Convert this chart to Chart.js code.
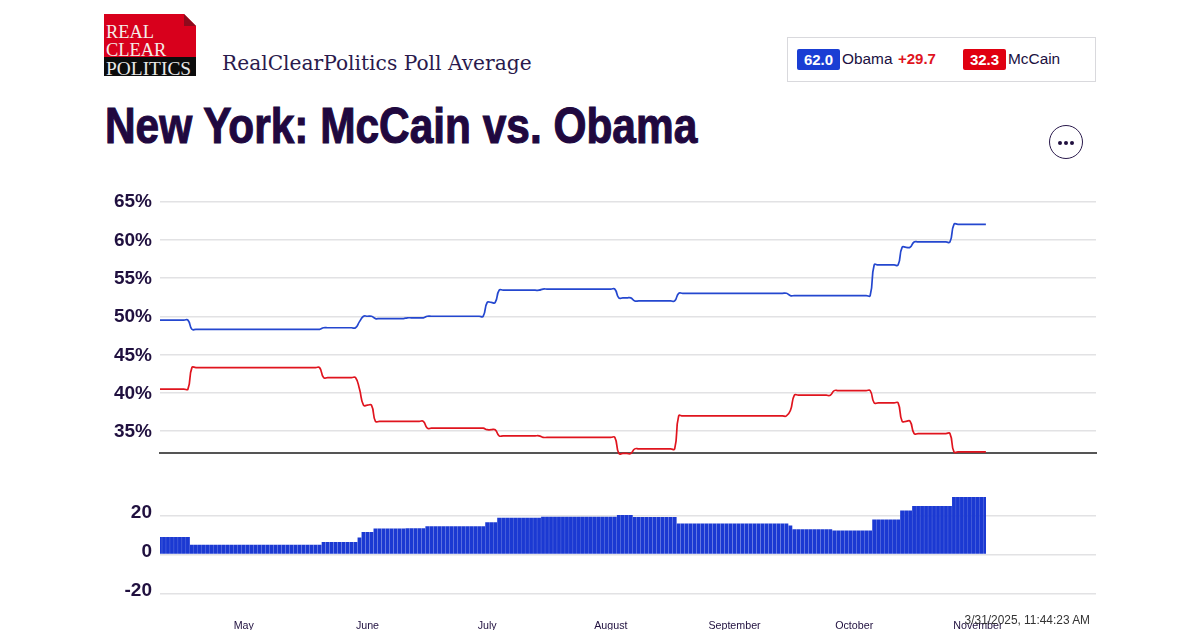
<!DOCTYPE html>
<html>
<head>
<meta charset="utf-8">
<title>New York: McCain vs. Obama</title>
<script src="https://cdn.jsdelivr.net/npm/chart.js@4"></script>
<style>
  body { margin: 0; width: 1200px; height: 630px; overflow: hidden; background: #fff; position: relative; font-family: "Liberation Sans", Arial, sans-serif; color: #20103f; }
  canvas { position: absolute; }
  .abs { position: absolute; white-space: nowrap; }
  #logo { left: 104px; top: 14px; width: 92px; height: 62px; background: #d8001c; overflow: hidden; clip-path: polygon(0 0, 80px 0, 92px 12px, 92px 62px, 0 62px); font-family: "Liberation Serif", serif; color: #f4ece8; }
  #logo .fold { position: absolute; left: 80px; top: 0; width: 12px; height: 12px; background: #8e0a1c; }
  #logo .strip { position: absolute; left: 0; top: 43px; width: 92px; height: 19px; background: #0c0c0c; }
  #logo span { position: absolute; left: 2px; line-height: 1; }
  #subtitle { left: 222px; top: 50px; font-family: "DejaVu Serif", serif; font-size: 20.2px; line-height: 27px; color: #2a1a4c; }
  #title { left: 105px; top: 98px; font-family: "Liberation Sans", sans-serif; font-weight: 700; font-size: 50px; line-height: 57px; color: #20083f; -webkit-text-stroke: 1.1px #20083f; transform: scaleX(0.848); transform-origin: 0 0; }
  #legend { left: 787px; top: 37px; width: 307px; height: 43px; border: 1px solid #d9d9dd; }
  .pill { position: absolute; width: 43px; height: 21px; top: 49px; border-radius: 2px; color: #fff; font-weight: 700; font-size: 15px; line-height: 22px; text-align: center; }
  .name { font-size: 15.4px; line-height: 20px; top: 49px; }
  #lead { left: 898px; top: 49px; font-size: 15px; font-weight: 700; line-height: 20px; color: #e0141e; }
  #more { left: 1049px; top: 125px; width: 32px; height: 32px; border: 1.5px solid #2a1a4c; border-radius: 50%; }
  #more i { position: absolute; top: 14.5px; width: 4px; height: 4px; border-radius: 50%; background: #20103f; }
  #stamp { right: 110px; top: 613px; font-size: 11.9px; line-height: 15px; color: #333; }
</style>
</head>
<body>
<div id="logo" class="abs">
  <div class="strip"></div>
  <div class="fold"></div>
  <span style="top:9px;font-size:18.4px">REAL</span>
  <span style="top:27px;font-size:18.4px">CLEAR</span>
  <span style="top:45px;font-size:19.4px;color:#e8e8e8">POLITICS</span>
</div>
<div id="subtitle" class="abs">RealClearPolitics Poll Average</div>
<div id="title" class="abs">New York: McCain vs. Obama</div>
<div id="legend" class="abs"></div>
<div class="pill abs" style="left:797px;background:#1a3ed4">62.0</div>
<div class="name abs" style="left:842px">Obama</div>
<div id="lead" class="abs">+29.7</div>
<div class="pill abs" style="left:963px;background:#e00010">32.3</div>
<div class="name abs" style="left:1008px">McCain</div>
<div id="more" class="abs"><i style="left:8px"></i><i style="left:14px"></i><i style="left:20px"></i></div>
<canvas id="pollChart" width="1000" height="270" style="left:100px;top:190px"></canvas>
<canvas id="spreadChart" width="1000" height="140" style="left:100px;top:490px"></canvas>
<div id="stamp" class="abs">3/31/2025, 11:44:23 AM</div>

<script>
// daily averages, one row = ten days, first day is April 10
const obama = [
  49.5, 49.5, 49.5, 49.5, 49.5, 49.5, 49.5, 49.5, 48.3, 48.3,
  48.3, 48.3, 48.3, 48.3, 48.3, 48.3, 48.3, 48.3, 48.3, 48.3,
  48.3, 48.3, 48.3, 48.3, 48.3, 48.3, 48.3, 48.3, 48.3, 48.3,
  48.3, 48.3, 48.3, 48.3, 48.3, 48.3, 48.3, 48.3, 48.3, 48.3,
  48.3, 48.5, 48.5, 48.5, 48.5, 48.5, 48.5, 48.5, 48.5, 48.5,
  49.3, 50.0, 50.0, 50.0, 49.7, 49.7, 49.7, 49.7, 49.7, 49.7,
  49.7, 49.7, 49.8, 49.8, 49.8, 49.8, 49.8, 50.0, 50.0, 50.0,
  50.0, 50.0, 50.0, 50.0, 50.0, 50.0, 50.0, 50.0, 50.0, 50.0,
  50.0, 50.0, 51.8, 51.8, 51.8, 53.4, 53.4, 53.4, 53.4, 53.4,
  53.4, 53.4, 53.4, 53.4, 53.4, 53.4, 53.55, 53.55, 53.55, 53.55,
  53.55, 53.55, 53.55, 53.55, 53.55, 53.55, 53.55, 53.55, 53.55, 53.55,
  53.55, 53.55, 53.55, 53.55, 53.55, 52.4, 52.4, 52.4, 52.4, 52.0,
  52.0, 52.0, 52.0, 52.0, 52.0, 52.0, 52.0, 52.0, 52.0, 52.0,
  53.0, 53.0, 53.0, 53.0, 53.0, 53.0, 53.0, 53.0, 53.0, 53.0,
  53.0, 53.0, 53.0, 53.0, 53.0, 53.0, 53.0, 53.0, 53.0, 53.0,
  53.0, 53.0, 53.0, 53.0, 53.0, 53.0, 53.0, 53.0, 52.7, 52.7,
  52.7, 52.7, 52.7, 52.7, 52.7, 52.7, 52.7, 52.7, 52.7, 52.7,
  52.7, 52.7, 52.7, 52.7, 52.7, 52.7, 52.7, 52.7, 52.7, 56.7,
  56.7, 56.7, 56.7, 56.7, 56.7, 56.7, 59.0, 59.0, 59.0, 59.7,
  59.7, 59.7, 59.7, 59.7, 59.7, 59.7, 59.7, 59.7, 59.7, 62.0,
  62.0, 62.0, 62.0, 62.0, 62.0, 62.0, 62.0, 62.0
];
const mccain = [
  40.5, 40.5, 40.5, 40.5, 40.5, 40.5, 40.5, 40.5, 43.3, 43.3,
  43.3, 43.3, 43.3, 43.3, 43.3, 43.3, 43.3, 43.3, 43.3, 43.3,
  43.3, 43.3, 43.3, 43.3, 43.3, 43.3, 43.3, 43.3, 43.3, 43.3,
  43.3, 43.3, 43.3, 43.3, 43.3, 43.3, 43.3, 43.3, 43.3, 43.3,
  43.3, 42.0, 42.0, 42.0, 42.0, 42.0, 42.0, 42.0, 42.0, 42.0,
  40.5, 38.4, 38.4, 38.4, 36.3, 36.3, 36.3, 36.3, 36.3, 36.3,
  36.3, 36.3, 36.3, 36.3, 36.3, 36.3, 36.3, 35.4, 35.4, 35.4,
  35.4, 35.4, 35.4, 35.4, 35.4, 35.4, 35.4, 35.4, 35.4, 35.4,
  35.4, 35.4, 35.2, 35.2, 35.2, 34.4, 34.4, 34.4, 34.4, 34.4,
  34.4, 34.4, 34.4, 34.4, 34.4, 34.4, 34.2, 34.2, 34.2, 34.2,
  34.2, 34.2, 34.2, 34.2, 34.2, 34.2, 34.2, 34.2, 34.2, 34.2,
  34.2, 34.2, 34.2, 34.2, 34.2, 32.1, 32.1, 32.1, 32.1, 32.7,
  32.7, 32.7, 32.7, 32.7, 32.7, 32.7, 32.7, 32.7, 32.7, 32.7,
  37.0, 37.0, 37.0, 37.0, 37.0, 37.0, 37.0, 37.0, 37.0, 37.0,
  37.0, 37.0, 37.0, 37.0, 37.0, 37.0, 37.0, 37.0, 37.0, 37.0,
  37.0, 37.0, 37.0, 37.0, 37.0, 37.0, 37.0, 37.0, 37.7, 39.7,
  39.7, 39.7, 39.7, 39.7, 39.7, 39.7, 39.7, 39.7, 39.7, 40.3,
  40.3, 40.3, 40.3, 40.3, 40.3, 40.3, 40.3, 40.3, 40.3, 38.7,
  38.7, 38.7, 38.7, 38.7, 38.7, 38.7, 36.3, 36.3, 36.3, 34.7,
  34.7, 34.7, 34.7, 34.7, 34.7, 34.7, 34.7, 34.7, 34.7, 32.3,
  32.3, 32.3, 32.3, 32.3, 32.3, 32.3, 32.3, 32.3
];
// Obama minus McCain
const spread = [
  9.0, 9.0, 9.0, 9.0, 9.0, 9.0, 9.0, 9.0, 5.0, 5.0,
  5.0, 5.0, 5.0, 5.0, 5.0, 5.0, 5.0, 5.0, 5.0, 5.0,
  5.0, 5.0, 5.0, 5.0, 5.0, 5.0, 5.0, 5.0, 5.0, 5.0,
  5.0, 5.0, 5.0, 5.0, 5.0, 5.0, 5.0, 5.0, 5.0, 5.0,
  5.0, 6.5, 6.5, 6.5, 6.5, 6.5, 6.5, 6.5, 6.5, 6.5,
  8.8, 11.6, 11.6, 11.6, 13.4, 13.4, 13.4, 13.4, 13.4, 13.4,
  13.4, 13.4, 13.5, 13.5, 13.5, 13.5, 13.5, 14.6, 14.6, 14.6,
  14.6, 14.6, 14.6, 14.6, 14.6, 14.6, 14.6, 14.6, 14.6, 14.6,
  14.6, 14.6, 16.6, 16.6, 16.6, 19.0, 19.0, 19.0, 19.0, 19.0,
  19.0, 19.0, 19.0, 19.0, 19.0, 19.0, 19.4, 19.4, 19.4, 19.4,
  19.4, 19.4, 19.4, 19.4, 19.4, 19.4, 19.4, 19.4, 19.4, 19.4,
  19.4, 19.4, 19.4, 19.4, 19.4, 20.3, 20.3, 20.3, 20.3, 19.3,
  19.3, 19.3, 19.3, 19.3, 19.3, 19.3, 19.3, 19.3, 19.3, 19.3,
  16.0, 16.0, 16.0, 16.0, 16.0, 16.0, 16.0, 16.0, 16.0, 16.0,
  16.0, 16.0, 16.0, 16.0, 16.0, 16.0, 16.0, 16.0, 16.0, 16.0,
  16.0, 16.0, 16.0, 16.0, 16.0, 16.0, 16.0, 16.0, 15.0, 13.0,
  13.0, 13.0, 13.0, 13.0, 13.0, 13.0, 13.0, 13.0, 13.0, 12.4,
  12.4, 12.4, 12.4, 12.4, 12.4, 12.4, 12.4, 12.4, 12.4, 18.0,
  18.0, 18.0, 18.0, 18.0, 18.0, 18.0, 22.7, 22.7, 22.7, 25.0,
  25.0, 25.0, 25.0, 25.0, 25.0, 25.0, 25.0, 25.0, 25.0, 29.7,
  29.7, 29.7, 29.7, 29.7, 29.7, 29.7, 29.7, 29.7
];
const monthNames = ['May', 'June', 'July', 'August', 'September', 'October', 'November'];
const monthDays = [21, 52, 82, 113, 144, 174, 205];
const pollTicks = [35, 40, 45, 50, 55, 60, 65];
const spreadTicks = [-20, 0, 20];

const lastDay = 234.6;
const inkColor = '#20103f';
const gridColor = '#e2e2e4';

function toPoints(values) {
    return values.map((v, i) => ({ x: i, y: v }));
}

// the tick labels must not push the plot area around
function noLabelPadding(axis) {
    axis.paddingTop = 0;
    axis.paddingBottom = 0;
    axis.paddingLeft = 0;
    axis.paddingRight = 0;
}

function yAxis(min, max, tickValues, format, labelShift) {
    return {
        min: min,
        max: max,
        afterBuildTicks: axis => { axis.ticks = tickValues.map(v => ({ value: v })); },
        afterFit: axis => {
            axis.width = 60;
            noLabelPadding(axis);
        },
        border: { display: false },
        grid: { color: gridColor, lineWidth: 1.5, drawTicks: false },
        ticks: {
            padding: 8,
            labelOffset: labelShift,
            color: inkColor,
            font: { family: '"Liberation Sans"', size: 19, weight: 'bold' },
            callback: format
        }
    };
}

new Chart(document.getElementById('pollChart'), {
    type: 'line',
    data: {
        datasets: [
            { label: 'Obama', data: toPoints(obama), borderColor: '#2447cf', borderWidth: 1.7, pointRadius: 0, tension: 0.5, capBezierPoints: false, clip: false },
            { label: 'McCain', data: toPoints(mccain), borderColor: '#e0141e', borderWidth: 1.7, pointRadius: 0, tension: 0.5, capBezierPoints: false, clip: false }
        ]
    },
    options: {
        responsive: false,
        animation: false,
        layout: { padding: { top: 11.3, bottom: 7.3, right: 4 } },
        plugins: { legend: { display: false } },
        scales: {
            x: {
                type: 'linear',
                min: 0,
                max: lastDay,
                afterFit: axis => {
                    axis.height = 0;
                    noLabelPadding(axis);
                },
                border: { display: true, color: '#555', width: 2 },
                grid: { display: false },
                ticks: { display: false }
            },
            y: yAxis(32.2, 65, pollTicks, v => v + '%', 0.8)
        }
    }
});

new Chart(document.getElementById('spreadChart'), {
    type: 'bar',
    data: {
        datasets: [
            // bars are centred on their day, so cut the last one where the lines end
            { label: 'Spread', data: toPoints(spread), backgroundColor: '#1b39d2', barPercentage: 0.96, categoryPercentage: 1, clip: { left: 0, top: 0, bottom: 0, right: -110 } }
        ]
    },
    options: {
        responsive: false,
        animation: false,
        layout: { padding: { top: 6.3, right: 4 } },
        plugins: { legend: { display: false } },
        scales: {
            x: {
                type: 'linear',
                offset: false,
                min: 0,
                max: lastDay,
                afterBuildTicks: axis => { axis.ticks = monthDays.map(v => ({ value: v })); },
                afterFit: axis => {
                    axis.height = 36.7;
                    noLabelPadding(axis);
                },
                border: { display: false },
                grid: { display: false, offset: false },
                ticks: {
                    padding: 18.5,
                    autoSkip: false,
                    maxRotation: 0,
                    color: inkColor,
                    font: { family: '"Liberation Sans"', size: 10.7 },
                    callback: v => monthNames[monthDays.indexOf(v)]
                }
            },
            y: yAxis(-20, 30, spreadTicks, v => v, -2.6)
        }
    }
});
</script>
</body>
</html>
